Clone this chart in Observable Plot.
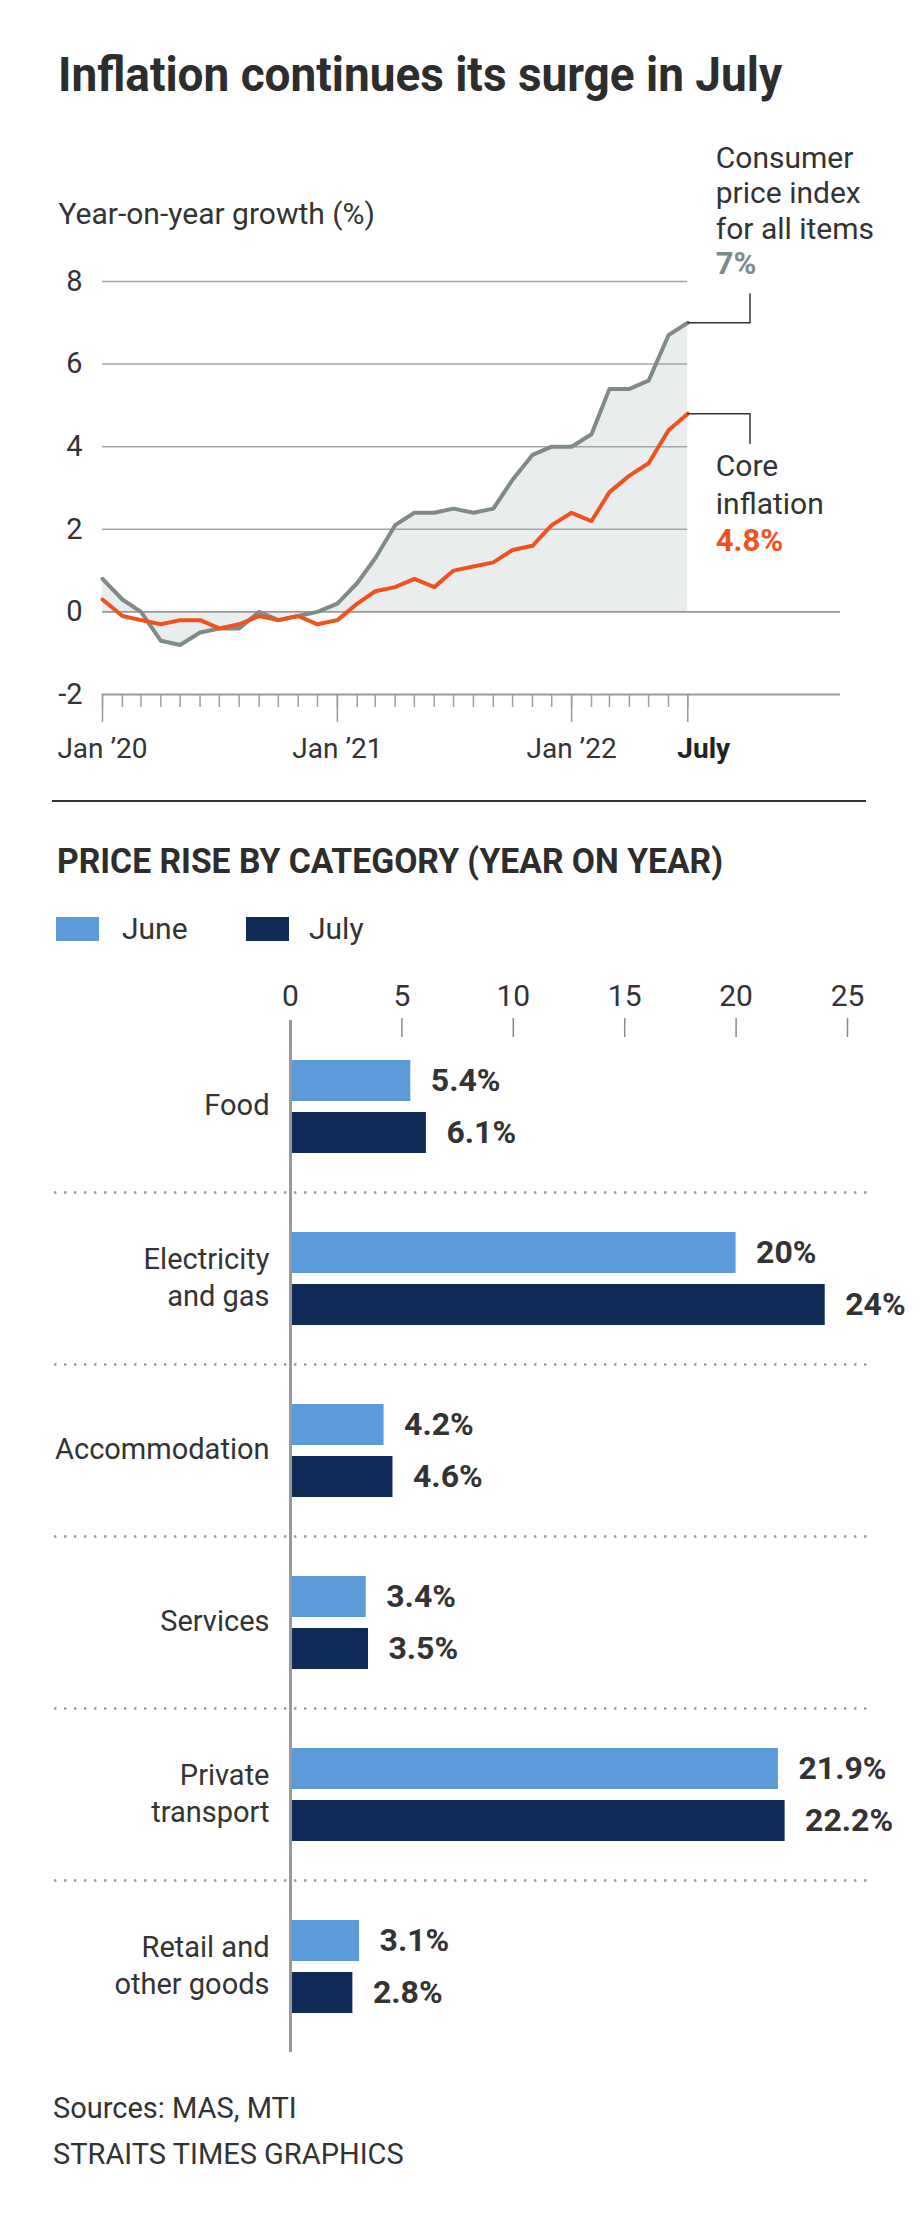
<!DOCTYPE html>
<html>
<head>
<meta charset="utf-8">
<script src="https://cdn.jsdelivr.net/npm/d3@7"></script>
<script src="https://cdn.jsdelivr.net/npm/@observablehq/plot@0.6"></script>
<style>
  html, body { margin: 0; padding: 0; background: #fff; }
  #page { position: relative; width: 920px; height: 2220px; overflow: hidden; background: #fff;
          font-family: Roboto, "Noto Sans", sans-serif; color: #333; }
  .abs { position: absolute; white-space: nowrap; line-height: 1; }
  #page svg { position: absolute; left: 0; }
</style>
</head>
<body>
<div id="page"></div>
<script>
// ---------- DATA ----------
const startMonth = "2020-01";
const cpiAll = [0.8, 0.3, 0.0, -0.7, -0.8, -0.5, -0.4, -0.4, 0.0, -0.2, -0.1, 0.0,
                0.2, 0.7, 1.3, 2.1, 2.4, 2.4, 2.5, 2.4, 2.5, 3.2, 3.8, 4.0,
                4.0, 4.3, 5.4, 5.4, 5.6, 6.7, 7.0];
const coreInflation = [0.3, -0.1, -0.2, -0.3, -0.2, -0.2, -0.4, -0.3, -0.1, -0.2, -0.1, -0.3,
                       -0.2, 0.2, 0.5, 0.6, 0.8, 0.6, 1.0, 1.1, 1.2, 1.5, 1.6, 2.1,
                       2.4, 2.2, 2.9, 3.3, 3.6, 4.4, 4.8];
const yTicks = [-2, 0, 2, 4, 6, 8];
const xTickMonths = ["2020-01", "2021-01", "2022-01"];
const xTickLabels = ["Jan \u201920", "Jan \u201921", "Jan \u201922"];
const lastLabel = "July";
const xDomainEnd = "2023-02-24";

const categories = ["Food", "Electricity and gas", "Accommodation", "Services", "Private transport", "Retail and other goods"];
const categoryLabels = ["Food", "Electricity\nand gas", "Accommodation", "Services", "Private\ntransport", "Retail and\nother goods"];
const seriesNames = ["June", "July"];
const juneValues = [5.4, 20, 4.2, 3.4, 21.9, 3.1];
const julyValues = [6.1, 24, 4.6, 3.5, 22.2, 2.8];
const barTicks = [0, 5, 10, 15, 20, 25];

const colors = {cpi: "#7f8b88", core: "#f0521f", area: "#e9edee", june: "#5b9bd9", july: "#0f2b56", text: "#333"};

// ---------- HELPERS ----------
const page = document.getElementById("page");
function addText(txt, x, baseline, size, weight, color, targetWidth) {
  const d = document.createElement("div");
  d.className = "abs";
  d.textContent = txt;
  d.style.left = x + "px";
  d.style.fontSize = size + "px";
  d.style.fontWeight = weight;
  d.style.color = color;
  d.style.top = (baseline - 0.842 * size) + "px";
  page.appendChild(d);
  if (targetWidth) {
    const w = d.getBoundingClientRect().width;
    d.style.transformOrigin = "0 0";
    d.style.transform = `scaleX(${targetWidth / w})`;
  }
  return d;
}
function addBox(x, y, w, h, color) {
  const d = document.createElement("div");
  d.className = "abs";
  Object.assign(d.style, {left: x + "px", top: y + "px", width: w + "px", height: h + "px", background: color});
  page.appendChild(d);
}

// ---------- TITLE ----------
addText("Inflation continues its surge in July", 58, 91, 49, 700, "#2d2d2d", 724);

// ---------- LINE CHART ----------
const parseMonth = d3.utcParse("%Y-%m");
const start = parseMonth(startMonth);
const series = cpiAll.map((v, i) => ({date: d3.utcMonth.offset(start, i), cpi: v, core: coreInflation[i]}));
const last = series[series.length - 1];
const monthDates = series.map(d => d.date);
const majorDates = [...xTickMonths.map(parseMonth), last.date];
const fmtMonth = d3.utcFormat("%Y-%m");
const connectorDate = d3.utcDay.offset(last.date, 97);
const cpiConnector = [{x: last.date, y: last.cpi}, {x: connectorDate, y: last.cpi}, {x: connectorDate, y: last.cpi + 0.7}];
const coreConnector = [{x: last.date, y: last.core}, {x: connectorDate, y: last.core}, {x: connectorDate, y: last.core - 0.72}];

const lineChart = Plot.plot({
  width: 920, height: 660,
  marginTop: 151, marginRight: 80, marginBottom: 96, marginLeft: 102,
  style: {fontFamily: "Roboto, sans-serif", fontSize: "30px", color: colors.text, background: "transparent", overflow: "visible"},
  x: {type: "utc", domain: [start, new Date(xDomainEnd)], axis: null, label: null},
  y: {domain: [-2, 8], axis: null, label: null},
  marks: [
    Plot.areaY(series, {x: "date", y1: 0, y2: "cpi", fill: colors.area}),
    Plot.ruleY(yTicks.filter(d => d > 0), {x1: () => start, x2: () => last.date, stroke: "#a5a5a5", strokeWidth: 1.5}),
    Plot.ruleY(yTicks.filter(d => d <= 0), {stroke: "#999", strokeWidth: 1.8}),
    Plot.axisX(monthDates, {tickSize: 13, tickFormat: () => "", stroke: "#a0a0a0", strokeWidth: 1.5, label: null}),
    Plot.axisX(majorDates, {tickSize: 28, tickPadding: 16, fontSize: 28, fill: colors.text, stroke: "#999", strokeWidth: 1.5, label: null,
      tickFormat: d => { const i = xTickMonths.indexOf(fmtMonth(d)); return i >= 0 ? xTickLabels[i] : ""; }}),
    Plot.axisX([last.date], {tickSize: 0, tickPadding: 44, fontSize: 28, fontWeight: "bold", fill: "#222", dx: 16, label: null,
      tickFormat: () => lastLabel}),
    Plot.axisY(yTicks, {tickSize: 0, tickPadding: 20, fontSize: 29, fill: colors.text, label: null, tickFormat: d => String(d)}),
    Plot.text(["Year-on-year growth (%)"], {frameAnchor: "top-left", dx: -44, dy: -58, textAnchor: "start", lineAnchor: "bottom", fontSize: 30, fill: colors.text}),
    Plot.lineY(series, {x: "date", y: "cpi", stroke: colors.cpi, strokeWidth: 4, strokeLinejoin: "round"}),
    Plot.lineY(series, {x: "date", y: "core", stroke: colors.core, strokeWidth: 4, strokeLinejoin: "round"}),
    Plot.line(cpiConnector, {x: "x", y: "y", stroke: "#333", strokeWidth: 1.5}),
    Plot.line(coreConnector, {x: "x", y: "y", stroke: "#333", strokeWidth: 1.5}),
    Plot.text([last], {x: "date", y: "cpi", text: () => "Consumer\nprice index\nfor all items", dx: 28, dy: -180,
      textAnchor: "start", lineAnchor: "top", lineHeight: 1.18, fontSize: 30, fill: colors.text}),
    Plot.text([last], {x: "date", y: "cpi", text: d => d.cpi + "%", dx: 28, dy: -49,
      textAnchor: "start", lineAnchor: "bottom", fontSize: 31, fontWeight: "bold", fill: colors.cpi}),
    Plot.text([last], {x: "date", y: "core", text: () => "Core\ninflation", dx: 28, dy: 36,
      textAnchor: "start", lineAnchor: "top", lineHeight: 1.25, fontSize: 30, fill: colors.text}),
    Plot.text([last], {x: "date", y: "core", text: d => d.core + "%", dx: 28, dy: 137,
      textAnchor: "start", lineAnchor: "bottom", fontSize: 31, fontWeight: "bold", fill: colors.core})
  ]
});
lineChart.style.top = "130px";
page.appendChild(lineChart);

// ---------- SEPARATOR ----------
addBox(52, 800, 814, 1.6, "#333");

// ---------- BAR SECTION HEADER + LEGEND ----------
addText("PRICE RISE BY CATEGORY (YEAR ON YEAR)", 57, 873, 35, 700, "#2d2d2d", 666);
addBox(56, 917, 43, 24, colors.june);
addText(seriesNames[0], 122, 939, 30, 400, colors.text);
addBox(246, 917, 43, 24, colors.july);
addText(seriesNames[1], 309, 939, 30, 400, colors.text);

// ---------- BAR CHART ----------
const barData = categories.flatMap((c, i) => [
  {category: c, month: seriesNames[0], value: juneValues[i]},
  {category: c, month: seriesNames[1], value: julyValues[i]}
]);
const labelOf = c => categoryLabels[categories.indexOf(c)];

const barChart = Plot.plot({
  width: 920, height: 1096,
  marginTop: 60, marginRight: 73, marginBottom: 4, marginLeft: 290,
  style: {fontFamily: "Roboto, sans-serif", fontSize: "29px", color: colors.text, background: "transparent", overflow: "visible"},
  x: {domain: [0, 25], axis: null, label: null},
  y: {domain: seriesNames, paddingInner: 11 / 52, paddingOuter: 0.7596, axis: null, label: null},
  fy: {domain: categories, padding: 0, axis: null, label: null},
  color: {domain: seriesNames, range: [colors.june, colors.july]},
  marks: [
    Plot.ruleY(categories.slice(1), {fy: d => d, y: null, dy: -86, insetLeft: -236, insetRight: -27,
      stroke: "#9a9a9a", strokeWidth: 2.4, strokeDasharray: "2.4 7.6"}),
    Plot.barX(barData, {x: "value", y: "month", fy: "category", fill: "month"}),
    Plot.text(barData, {x: "value", y: "month", fy: "category", text: d => d.value + "%", dx: 20, textAnchor: "start",
      fontWeight: "bold", fontSize: 32, fill: colors.text}),
    Plot.ruleX([0], {stroke: "#999", strokeWidth: 3}),
    Plot.ruleX(barTicks.slice(1), {x: d => d, fy: () => categories[0], insetTop: -2, insetBottom: 155, stroke: "#8a8a8a", strokeWidth: 1.5}),
    Plot.axisX(barTicks, {anchor: "top", tickSize: 0, tickPadding: 15, fontSize: 30, fill: colors.text, label: null}),
    Plot.axisFy({anchor: "left", tickSize: 0, tickPadding: 21, tickFormat: labelOf, lineHeight: 1.28, dy: -3,
      fontSize: 29, fill: colors.text, label: null})
  ]
});
barChart.style.top = "960px";
page.appendChild(barChart);

// ---------- FOOTER ----------
addText("Sources: MAS, MTI", 53, 2118, 29, 400, colors.text);
addText("STRAITS TIMES GRAPHICS", 53, 2164, 29, 400, colors.text);
</script>
</body>
</html>
